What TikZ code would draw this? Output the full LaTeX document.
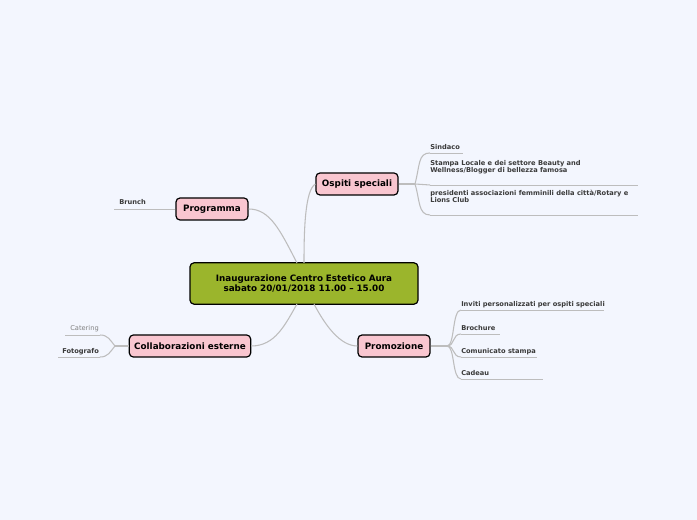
\documentclass[tikz,border=0pt]{standalone}
\usepackage{fontspec}
\setmainfont{DejaVu Sans}
\definecolor{bg}{HTML}{F3F6FE}
\definecolor{cen}{HTML}{9BB52C}
\definecolor{pk}{HTML}{F9C6D0}
\definecolor{ln}{HTML}{BDBDBD}
\definecolor{lt}{HTML}{3A3A3A}
\begin{document}
\begin{tikzpicture}[x=0.75pt,y=-0.75pt,
  main/.style={draw=black,line width=0.9pt,rounded corners=3pt,fill=pk,font=\bfseries\fontsize{6.6}{8}\selectfont,inner sep=0pt},
  leaf/.style={anchor=base west,font=\bfseries\fontsize{5}{5.6}\selectfont,text=lt,inner sep=0pt,align=left},
  con/.style={draw=ln,line width=0.8pt},
  ul/.style={draw=ln,line width=0.6pt}]
\fill[bg] (0,0) rectangle (697,520);
\useasboundingbox (0,0) rectangle (697,520);
\node[main,fill=cen,minimum width=228\pgflinewidth/0.9*0.75,text width=210*0.75pt,align=center,minimum height=31pt] (c) at (304,283.5) {Inaugurazione Centro Estetico Aura\\sabato 20/01/2018 11.00 -- 15.00};
\node[main,minimum width=61.5pt,minimum height=16.5pt] (o) at (357,184) {Ospiti speciali};
\node[main,minimum width=54pt,minimum height=16.5pt] (p) at (212,209) {Programma};
\node[main,minimum width=91pt,minimum height=16.5pt] (k) at (190,346) {Collaborazioni esterne};
\node[main,minimum width=54pt,minimum height=16.5pt] (m) at (394,346) {Promozione};
\draw[con] (304,263) .. controls (304,230) and (305,190) .. (o.west);
\draw[con] (297,263) .. controls (280,230) and (270,209) .. (p.east);
\draw[con] (297,304) .. controls (285,325) and (275,346) .. (k.east);
\draw[con] (314,304) .. controls (325,325) and (340,346) .. (m.west);
% Ospiti leaves
\coordinate (oj) at (415,184);
\draw[con] (o.east) -- (oj);
\node[leaf] (s1) at (430,150) {Sindaco};
\draw[con] (oj) .. controls (420,165) and (418,153) .. (430,153);
\draw[ul] (430,153) -- (463,153);
\node[leaf] (s2) at (430,173) {Stampa Locale e dei settore Beauty and\\Wellness/Blogger di bellezza famosa};
\draw[con] (oj) -- (430,185);
\draw[ul] (430,185) -- (638,185);
\node[leaf] (s3) at (430,203) {presidenti associazioni femminili della città/Rotary e\\Lions Club};
\draw[con] (oj) .. controls (420,200) and (418,215) .. (430,215);
\draw[ul] (430,215) -- (638,215);
% Promozione leaves
\coordinate (mj) at (447,346);
\draw[con] (m.east) -- (mj);
\foreach \y/\e/\t in {310/604/Inviti personalizzati per ospiti speciali,334/500/Brochure,357/537/Comunicato stampa,379/543/Cadeau/buoni sconto}{
  \node[leaf] at (461,\y-3) {\t};
  \draw[con] (mj) .. controls (455,346) and (452,\y) .. (461,\y);
  \draw[ul] (461,\y) -- (\e,\y);
}
% Programma leaf
\node[leaf] (b) at (119,205) {Brunch};
\draw[ul] (p.west) -- (114,209);
% Collab leaves
\coordinate (kj) at (115,346);
\draw[con] (k.west) -- (kj);
\node[leaf,font=\fontsize{5}{6}\selectfont,text=gray] (ca) at (70,331) {Catering};
\node[leaf] (fo) at (62,354) {Fotografo};
\draw[con] (kj) .. controls (110,340) and (108,335) .. (100,335);
\draw[ul] (100,335) -- (65,335);
\draw[con] (kj) .. controls (110,352) and (108,357) .. (100,357);
\draw[ul] (100,357) -- (58,357);
\end{tikzpicture}
\end{document}
